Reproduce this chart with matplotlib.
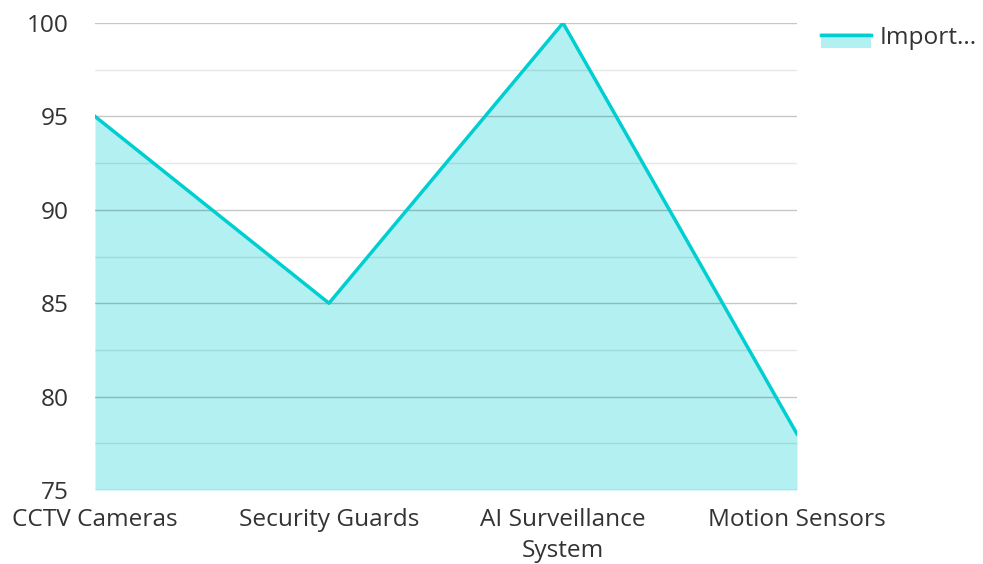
import matplotlib.pyplot as plt
from matplotlib.patches import Rectangle
from matplotlib.lines import Line2D

plt.rcParams['font.family'] = ['Open Sans', 'DejaVu Sans']

# data
categories = ['CCTV Cameras', 'Security Guards', 'AI Surveillance\nSystem', 'Motion Sensors']
importance = [95, 85, 100, 78]
legend_label = 'Import...'

line_color = '#00CED1'
text_color = '#333333'
fs = 17.6

fig = plt.figure(figsize=(9.83, 5.64), dpi=100)
W, H = 983, 564
ax = fig.add_axes([95 / W, 1 - 490 / H, (797 - 95) / W, (490 - 23) / H])

x = list(range(len(categories)))
ax.fill_between(x, importance, 75, color=line_color, alpha=0.3, linewidth=0, zorder=1)
ax.plot(x, importance, color=line_color, linewidth=2.5, zorder=3)

ax.set_xlim(0, len(categories) - 1)
ax.set_ylim(75, 100)
ax.set_yticks([75, 80, 85, 90, 95, 100])
ax.set_yticks([77.5, 82.5, 87.5, 92.5, 97.5], minor=True)
ax.set_xticks(x)
ax.set_xticklabels(categories, linespacing=1.4)

ax.grid(axis='y', which='major', color='black', alpha=0.22, linewidth=1)
ax.grid(axis='y', which='minor', color='black', alpha=0.09, linewidth=1)
ax.set_axisbelow(False)
for s in ax.spines.values():
    s.set_visible(False)

ax.tick_params(axis='y', which='both', length=0, pad=19, labelsize=fs, labelcolor=text_color)
ax.tick_params(axis='x', length=0, pad=13, labelsize=fs, labelcolor=text_color)

# legend drawn by hand: fill swatch with line on top
fig.patches.append(Rectangle((821 / W, 1 - 48 / H), 50 / W, 15 / H,
                             transform=fig.transFigure, facecolor=line_color,
                             alpha=0.3, edgecolor='none'))
fig.lines.append(Line2D([821 / W, 871 / W], [1 - 35 / H, 1 - 35 / H],
                        transform=fig.transFigure, color=line_color, linewidth=2.5))
fig.text(880 / W, 1 - 38 / H, legend_label, fontsize=fs, color=text_color,
         va='center', ha='left')

fig.savefig('out.png', dpi=100)
